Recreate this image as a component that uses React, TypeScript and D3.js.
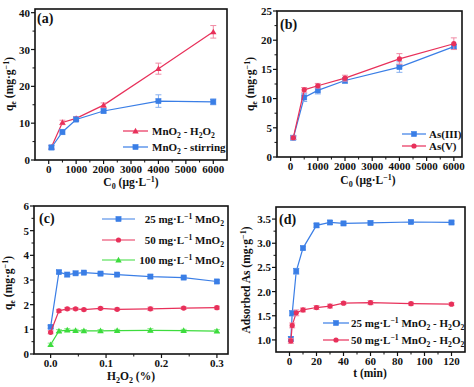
import React from 'react';
import * as d3 from 'd3';

const FONT = "'Liberation Serif','Times New Roman',serif";
const RED = '#e8305a', BLUE = '#3a7ee6', GREEN = '#3ddc3d';
const RED_E = '#f08aa4', BLUE_E = '#86b0f0', GREEN_E = '#8eec8e';

// Panel (a)
const aX = [100, 500, 1000, 2000, 4000, 6000];
const aH2O2 = [3.5, 10.2, 11.3, 14.9, 24.8, 34.8];
const aH2O2Err = [0.5, 0.6, 0.5, 0.6, 1.5, 1.7];
const aStir = [3.4, 7.6, 11.0, 13.3, 16.0, 15.8];
const aStirErr = [0.6, 0.7, 0.6, 0.6, 1.7, 0.8];
const aXTicks = [0, 1000, 2000, 3000, 4000, 5000, 6000];
const aYTicks = [0, 10, 20, 30, 40];

// Panel (b)
const bX = [100, 500, 1000, 2000, 4000, 6000];
const bAs3 = [3.3, 10.2, 11.4, 13.1, 15.4, 18.9];
const bAs3Err = [0.3, 0.7, 0.6, 0.5, 0.9, 0.4];
const bAs5 = [3.3, 11.5, 12.2, 13.5, 16.8, 19.4];
const bAs5Err = [0.3, 0.4, 0.4, 0.5, 0.9, 1.0];
const bXTicks = [0, 1000, 2000, 3000, 4000, 5000, 6000];
const bYTicks = [0, 5, 10, 15, 20, 25];

// Panel (c)
const cX = [0, 0.015, 0.03, 0.045, 0.06, 0.09, 0.12, 0.18, 0.24, 0.3];
const c25 = [1.1, 3.32, 3.22, 3.27, 3.3, 3.26, 3.22, 3.14, 3.1, 2.94];
const c50 = [0.88, 1.75, 1.83, 1.83, 1.8, 1.85, 1.81, 1.83, 1.86, 1.88];
const c100 = [0.38, 0.93, 0.97, 0.95, 0.94, 0.94, 0.95, 0.96, 0.95, 0.93];
const cErr = [0.06, 0.06, 0.06, 0.05, 0.05, 0.05, 0.05, 0.07, 0.05, 0.06];
const cXTicks = [0, 0.1, 0.2, 0.3];
const cYTicks = [0, 1, 2, 3, 4, 5, 6];

// Panel (d)
const dX = [1, 2, 5, 10, 20, 30, 40, 60, 90, 120];
const d25 = [1.02, 1.55, 2.42, 2.9, 3.37, 3.43, 3.41, 3.42, 3.44, 3.43];
const d50 = [0.98, 1.3, 1.56, 1.62, 1.67, 1.7, 1.76, 1.77, 1.75, 1.74];
const dErr = [0.05, 0.05, 0.06, 0.04, 0.04, 0.04, 0.03, 0.04, 0.03, 0.03];
const dXTicks = [0, 20, 40, 60, 80, 100, 120];
const dYTicks = [1.0, 1.5, 2.0, 2.5, 3.0, 3.5];

type Seg = { t: string; s?: 'sub' | 'sup' };

function Rich({ segs, size }: { segs: Seg[]; size: number }) {
  let cur = 0;
  return (
    <>
      {segs.map((sg, i) => {
        const target = sg.s === 'sub' ? size * 0.28 : sg.s === 'sup' ? -size * 0.35 : 0;
        const dy = target - cur;
        cur = target;
        return (
          <tspan key={i} dy={dy} fontSize={sg.s ? size * 0.7 : size}>
            {sg.t}
          </tspan>
        );
      })}
    </>
  );
}

type Series = {
  x: number[];
  y: number[];
  err: number[];
  color: string;
  errColor: string;
  marker: 'square' | 'circle' | 'triangle';
};

type Legend = { x1: number; x2: number; tx: number; y: number; segs: Seg[]; series: number; anchor?: string; };

type PanelCfg = {
  l: number; r: number; t: number; b: number;
  xDomain: [number, number]; yDomain: [number, number];
  xTicks: number[]; yTicks: number[];
  xFmt: (v: number) => string; yFmt: (v: number) => string;
  xMinor: number[]; yMinor: number[];
  series: Series[];
  legends: Legend[];
  label: string; labelX: number; labelY: number;
  xTitle: Seg[]; xTitleX: number; xTitleY: number;
  yTitle: Seg[]; yTitleX: number; yTitleY: number;
};

function Marker({ type, x, y, color }: { type: string; x: number; y: number; color: string }) {
  if (type === 'square') return <rect x={x - 2.6} y={y - 2.6} width={5.2} height={5.2} fill={color} stroke={color} strokeWidth={0.5} />;
  if (type === 'circle') return <circle cx={x} cy={y} r={2.6} fill={color} />;
  const s = 3.2;
  return <path d={`M${x},${y - s}L${x + s},${y + s * 0.75}L${x - s},${y + s * 0.75}Z`} fill={color} />;
}

function Panel({ cfg }: { cfg: PanelCfg }) {
  const xs = d3.scaleLinear().domain(cfg.xDomain).range([cfg.l, cfg.r]);
  const ys = d3.scaleLinear().domain(cfg.yDomain).range([cfg.b, cfg.t]);
  const fs = 11;
  return (
    <g fontFamily={FONT} fontWeight="bold" fill="#111">
      {cfg.series.map((s, si) => {
        const line = d3.line<number>().x((_, i) => xs(s.x[i])).y((v) => ys(v));
        return (
          <g key={si}>
            <path d={line(s.y) || ''} fill="none" stroke={s.color} strokeWidth={1.2} />
            {s.y.map((v, i) => {
              const px = xs(s.x[i]);
              const e = s.err[i];
              return (
                <g key={i} stroke={s.errColor} strokeWidth={1}>
                  <line x1={px} x2={px} y1={ys(v - e)} y2={ys(v + e)} />
                  <line x1={px - 3} x2={px + 3} y1={ys(v - e)} y2={ys(v - e)} />
                  <line x1={px - 3} x2={px + 3} y1={ys(v + e)} y2={ys(v + e)} />
                </g>
              );
            })}
            {s.y.map((v, i) => (
              <Marker key={'m' + i} type={s.marker} x={xs(s.x[i])} y={ys(v)} color={s.color} />
            ))}
          </g>
        );
      })}
      <rect x={cfg.l} y={cfg.t} width={cfg.r - cfg.l} height={cfg.b - cfg.t} fill="none" stroke="#111" strokeWidth={1.6} />
      {cfg.xTicks.map((v, i) => (
        <g key={'xt' + i}>
          <line x1={xs(v)} x2={xs(v)} y1={cfg.b} y2={cfg.b + 4} stroke="#111" strokeWidth={1.2} />
          <text x={xs(v)} y={cfg.b + 12.5} textAnchor="middle" fontSize={fs}>{cfg.xFmt(v)}</text>
        </g>
      ))}
      {cfg.xMinor.map((v, i) => (
        <line key={'xm' + i} x1={xs(v)} x2={xs(v)} y1={cfg.b} y2={cfg.b + 2.5} stroke="#111" strokeWidth={1} />
      ))}
      {cfg.yTicks.map((v, i) => (
        <g key={'yt' + i}>
          <line x1={cfg.l - 4} x2={cfg.l} y1={ys(v)} y2={ys(v)} stroke="#111" strokeWidth={1.2} />
          <text x={cfg.l - 5} y={ys(v) + 4} textAnchor="end" fontSize={fs}>{cfg.yFmt(v)}</text>
        </g>
      ))}
      {cfg.yMinor.map((v, i) => (
        <line key={'ym' + i} x1={cfg.l - 2.5} x2={cfg.l} y1={ys(v)} y2={ys(v)} stroke="#111" strokeWidth={1} />
      ))}
      <text x={cfg.labelX} y={cfg.labelY} fontSize={14}>{cfg.label}</text>
      <text x={cfg.xTitleX} y={cfg.xTitleY} textAnchor="middle" fontSize={11.5}>
        <Rich segs={cfg.xTitle} size={11.5} />
      </text>
      <text transform={`translate(${cfg.yTitleX},${cfg.yTitleY}) rotate(-90)`} textAnchor="middle" fontSize={11.5}>
        <Rich segs={cfg.yTitle} size={11.5} />
      </text>
      {cfg.legends.map((lg, i) => {
        const s = cfg.series[lg.series];
        return (
          <g key={'lg' + i}>
            <line x1={lg.x1} x2={lg.x2} y1={lg.y} y2={lg.y} stroke={s.color} strokeWidth={1.2} />
            <Marker type={s.marker} x={(lg.x1 + lg.x2) / 2} y={lg.y} color={s.color} />
            <text x={lg.tx} y={lg.y + 4} fontSize={11} textAnchor={lg.anchor || 'start'}>
              <Rich segs={lg.segs} size={11} />
            </text>
          </g>
        );
      })}
    </g>
  );
}

const qeTitle: Seg[] = [{ t: 'q' }, { t: 'e', s: 'sub' }, { t: ' (mg·g' }, { t: '−1', s: 'sup' }, { t: ')' }];
const c0Title: Seg[] = [{ t: 'C' }, { t: '0', s: 'sub' }, { t: ' (μg·L' }, { t: '−1', s: 'sup' }, { t: ')' }];
const kFmt = (v: number) => String(v);

const panels: PanelCfg[] = [
  {
    l: 35, r: 227, t: 9, b: 160,
    xDomain: [-500, 6500], yDomain: [0, 41],
    xTicks: aXTicks, yTicks: aYTicks, xFmt: kFmt, yFmt: kFmt,
    xMinor: [500, 1500, 2500, 3500, 4500, 5500], yMinor: [5, 15, 25, 35],
    series: [
      { x: aX, y: aH2O2, err: aH2O2Err, color: RED, errColor: RED_E, marker: 'triangle' },
      { x: aX, y: aStir, err: aStirErr, color: BLUE, errColor: BLUE_E, marker: 'square' },
    ],
    legends: [
      { x1: 123, x2: 148, tx: 152, y: 131, series: 0, segs: [{ t: 'MnO' }, { t: '2', s: 'sub' }, { t: ' - H' }, { t: '2', s: 'sub' }, { t: 'O' }, { t: '2', s: 'sub' }] },
      { x1: 123, x2: 148, tx: 152, y: 147, series: 1, segs: [{ t: 'MnO' }, { t: '2', s: 'sub' }, { t: ' - stirring' }] },
    ],
    label: '(a)', labelX: 37, labelY: 23,
    xTitle: c0Title, xTitleX: 131, xTitleY: 186,
    yTitle: qeTitle, yTitleX: 13, yTitleY: 84,
  },
  {
    l: 277, r: 462, t: 11, b: 157,
    xDomain: [-500, 6300], yDomain: [0, 25],
    xTicks: bXTicks, yTicks: bYTicks, xFmt: kFmt, yFmt: kFmt,
    xMinor: [500, 1500, 2500, 3500, 4500, 5500], yMinor: [2.5, 7.5, 12.5, 17.5, 22.5],
    series: [
      { x: bX, y: bAs3, err: bAs3Err, color: BLUE, errColor: BLUE_E, marker: 'square' },
      { x: bX, y: bAs5, err: bAs5Err, color: RED, errColor: RED_E, marker: 'circle' },
    ],
    legends: [
      { x1: 402, x2: 426, tx: 429, y: 134, series: 0, segs: [{ t: 'As(III)' }] },
      { x1: 402, x2: 426, tx: 429, y: 146, series: 1, segs: [{ t: 'As(V)' }] },
    ],
    label: '(b)', labelX: 280, labelY: 29,
    xTitle: c0Title, xTitleX: 368, xTitleY: 184,
    yTitle: qeTitle, yTitleX: 254, yTitleY: 84,
  },
  {
    l: 34, r: 228, t: 206, b: 354,
    xDomain: [-0.03, 0.32], yDomain: [0, 6],
    xTicks: cXTicks, yTicks: cYTicks, xFmt: (v) => v.toFixed(1), yFmt: kFmt,
    xMinor: [0.05, 0.15, 0.25], yMinor: [0.5, 1.5, 2.5, 3.5, 4.5, 5.5],
    series: [
      { x: cX, y: c25, err: cErr, color: BLUE, errColor: BLUE_E, marker: 'square' },
      { x: cX, y: c50, err: cErr, color: RED, errColor: RED_E, marker: 'circle' },
      { x: cX, y: c100, err: cErr, color: GREEN, errColor: GREEN_E, marker: 'triangle' },
    ],
    legends: [
      { x1: 102, x2: 135, tx: 224, y: 219, series: 0, anchor: 'end', segs: [{ t: '25 mg·L' }, { t: '−1', s: 'sup' }, { t: ' MnO' }, { t: '2', s: 'sub' }] },
      { x1: 102, x2: 135, tx: 224, y: 240, series: 1, anchor: 'end', segs: [{ t: '50 mg·L' }, { t: '−1', s: 'sup' }, { t: ' MnO' }, { t: '2', s: 'sub' }] },
      { x1: 102, x2: 135, tx: 224, y: 260, series: 2, anchor: 'end', segs: [{ t: '100 mg·L' }, { t: '−1', s: 'sup' }, { t: ' MnO' }, { t: '2', s: 'sub' }] },
    ],
    label: '(c)', labelX: 39, labelY: 223,
    xTitle: [{ t: 'H' }, { t: '2', s: 'sub' }, { t: 'O' }, { t: '2', s: 'sub' }, { t: ' (%)' }], xTitleX: 131, xTitleY: 380,
    yTitle: qeTitle, yTitleX: 12, yTitleY: 283,
  },
  {
    l: 276, r: 465, t: 207, b: 352,
    xDomain: [-10, 130], yDomain: [0.75, 3.75],
    xTicks: dXTicks, yTicks: dYTicks, xFmt: kFmt, yFmt: (v) => v.toFixed(1),
    xMinor: [10, 30, 50, 70, 90, 110], yMinor: [1.25, 1.75, 2.25, 2.75, 3.25],
    series: [
      { x: dX, y: d25, err: dErr, color: BLUE, errColor: BLUE_E, marker: 'square' },
      { x: dX, y: d50, err: dErr, color: RED, errColor: RED_E, marker: 'circle' },
    ],
    legends: [
      { x1: 323, x2: 349, tx: 351, y: 323, series: 0, segs: [{ t: '25 mg·L' }, { t: '−1', s: 'sup' }, { t: ' MnO' }, { t: '2', s: 'sub' }, { t: ' - H' }, { t: '2', s: 'sub' }, { t: 'O' }, { t: '2', s: 'sub' }] },
      { x1: 323, x2: 349, tx: 351, y: 340, series: 1, segs: [{ t: '50 mg·L' }, { t: '−1', s: 'sup' }, { t: ' MnO' }, { t: '2', s: 'sub' }, { t: ' - H' }, { t: '2', s: 'sub' }, { t: 'O' }, { t: '2', s: 'sub' }] },
    ],
    label: '(d)', labelX: 279, labelY: 224,
    xTitle: [{ t: 't (min)' }], xTitleX: 370, xTitleY: 377,
    yTitle: [{ t: 'Adsorbed As (mg·g' }, { t: '−1', s: 'sup' }, { t: ')' }], yTitleX: 250, yTitleY: 280,
  },
];

export default function App() {
  return (
    <svg width={474} height={387} style={{ position: 'absolute', left: 0, top: 0, background: '#fff' }}>
      <rect width={474} height={387} fill="#fff" />
      {panels.map((p, i) => (
        <Panel key={i} cfg={p} />
      ))}
    </svg>
  );
}
